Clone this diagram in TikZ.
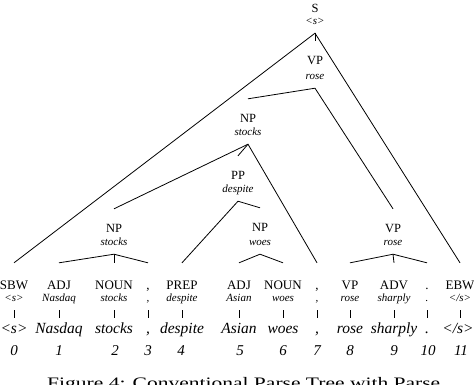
\documentclass[tikz,border=0pt]{standalone}
\usepackage{fontspec}
\setmainfont{Liberation Serif}
\tikzset{
  cat/.style={inner sep=0pt, minimum height=40pt, text height=9pt, text depth=3pt, font=\fontsize{12.5}{14}\selectfont},
  tag/.style={inner sep=0pt, minimum height=46pt, text height=9pt, text depth=3pt, font=\fontsize{13}{15}\selectfont},
  head/.style={inner sep=0pt, minimum height=22pt, text height=8pt, text depth=2.5pt, font=\fontsize{11}{13}\selectfont\itshape},
  word/.style={inner sep=0pt, minimum height=24pt, text height=11pt, text depth=3.5pt, font=\fontsize{15.5}{18}\selectfont\itshape},
  idx/.style={inner sep=0pt, text height=11pt, text depth=3pt, font=\fontsize{15}{18}\selectfont\itshape},
  rama/.style={line width=0.8pt}
}
\begin{document}
\begin{tikzpicture}[x=1pt,y=-1pt]
    \useasboundingbox (0,0) rectangle (474,384);
    \clip (0,0) rectangle (474,384);

    % Constituyentes internos: categoria arriba, palabra nucleo abajo
    \node[cat] (S) at (315,9) {S};
    \node[head] (Sh) at (315,22) {<s>};
    \node[cat] (VP1) at (315,61) {VP};
    \node[head] (VP1h) at (315,77) {rose};
    \node[cat] (NP1) at (248,119) {NP};
    \node[head] (NP1h) at (248,133) {stocks};
    \node[cat] (PP) at (238,176) {PP};
    \node[head] (PPh) at (238,190) {despite};
    \node[cat] (NP2) at (114,229) {NP};
    \node[head] (NP2h) at (114,243) {stocks};
    \node[cat] (NP3) at (260,228) {NP};
    \node[head] (NP3h) at (260,243) {woes};
    \node[cat] (VP2) at (393,229) {VP};
    \node[head] (VP2h) at (393,243) {rose};

    % Hojas: etiqueta, nucleo, palabra e indice de cada posicion
    \node[tag] (t0) at (14,286) {SBW}; \node[head] (h0) at (14,299) {<s>}; \node[word] (w0) at (14,330) {<s>}; \node[idx] (n0) at (14,351) {0};
    \node[tag] (t1) at (59,286) {ADJ}; \node[head] (h1) at (59,299) {Nasdaq}; \node[word] (w1) at (59,330) {Nasdaq}; \node[idx] (n1) at (59,351) {1};
    \node[tag] (t2) at (114,286) {NOUN}; \node[head] (h2) at (114,299) {stocks}; \node[word] (w2) at (114,330) {stocks}; \node[idx] (n2) at (115,351) {2};
    \node[tag] (t3) at (148,286) {,}; \node[head] (h3) at (148,299) {,}; \node[word] (w3) at (148,330) {,}; \node[idx] (n3) at (148,351) {3};
    \node[tag] (t4) at (182,286) {PREP}; \node[head] (h4) at (182,299) {despite}; \node[word] (w4) at (182,330) {despite}; \node[idx] (n4) at (181,351) {4};
    \node[tag] (t5) at (239,286) {ADJ}; \node[head] (h5) at (239,299) {Asian}; \node[word] (w5) at (239,330) {Asian}; \node[idx] (n5) at (240,351) {5};
    \node[tag] (t6) at (283,286) {NOUN}; \node[head] (h6) at (283,299) {woes}; \node[word] (w6) at (283,330) {woes}; \node[idx] (n6) at (283,351) {6};
    \node[tag] (t7) at (317,286) {,}; \node[head] (h7) at (317,299) {,}; \node[word] (w7) at (317,330) {,}; \node[idx] (n7) at (317,351) {7};
    \node[tag] (t8) at (350,286) {VP}; \node[head] (h8) at (350,299) {rose}; \node[word] (w8) at (350,330) {rose}; \node[idx] (n8) at (350,351) {8};
    \node[tag] (t9) at (394,286) {ADV}; \node[head] (h9) at (394,299) {sharply}; \node[word] (w9) at (394,330) {sharply}; \node[idx] (n9) at (394,351) {9};
    \node[tag] (t10) at (427,286) {.}; \node[head] (h10) at (427,299) {.}; \node[word] (w10) at (427,330) {.}; \node[idx] (n10) at (428,351) {10};
    \node[tag] (t11) at (460,286) {EBW}; \node[head] (h11) at (460,299) {</s>}; \node[word] (w11) at (458,330) {</s>}; \node[idx] (n11) at (461,351) {11};

    % Barras entre nucleo y palabra
    \draw[rama] (h0.south) -- (w0.north);   \draw[rama] (h1.south) -- (w1.north);
    \draw[rama] (h2.south) -- (w2.north);   \draw[rama] (h3.south) -- (w3.north);
    \draw[rama] (h4.south) -- (w4.north);   \draw[rama] (h5.south) -- (w5.north);
    \draw[rama] (h6.south) -- (w6.north);   \draw[rama] (h7.south) -- (w7.north);
    \draw[rama] (h8.south) -- (w8.north);   \draw[rama] (h9.south) -- (w9.north);
    \draw[rama] (h10.south) -- (w10.north); \draw[rama] (h11.south) -- (h11.south |- w11.north);

    % Ramas del arbol
    \draw[rama] (t0.north) -- (Sh.south) -- (t11.north);
    \draw[rama] (Sh.south) -- (VP1.north);
    \draw[rama] (NP1.north) -- (VP1h.south) -- (VP2.north);
    \draw[rama] (NP2.north) -- (NP1h.south) -- (t7.north);
    \draw[rama] (NP1h.south) -- (PP.north);
    \draw[rama] (t4.north) -- (PPh.south) -- (NP3.north);
    \draw[rama] (t1.north) -- (NP2h.south) -- (t3.north);
    \draw[rama] (NP2h.south) -- (t2.north);
    \draw[rama] (t5.north) -- (NP3h.south) -- (t6.north);
    \draw[rama] (t8.north) -- (VP2h.south) -- (t10.north);
    \draw[rama] (VP2h.south) -- (t9.north);

    % Pie de figura (cortado por el borde)
    \node[anchor=base west, inner sep=0pt] (pie) at (47,388)
      {\resizebox{393pt}{\height}{\fontsize{16}{18}\selectfont Figure 4: Conventional Parse Tree with Parse}};

\end{tikzpicture}
\end{document}
